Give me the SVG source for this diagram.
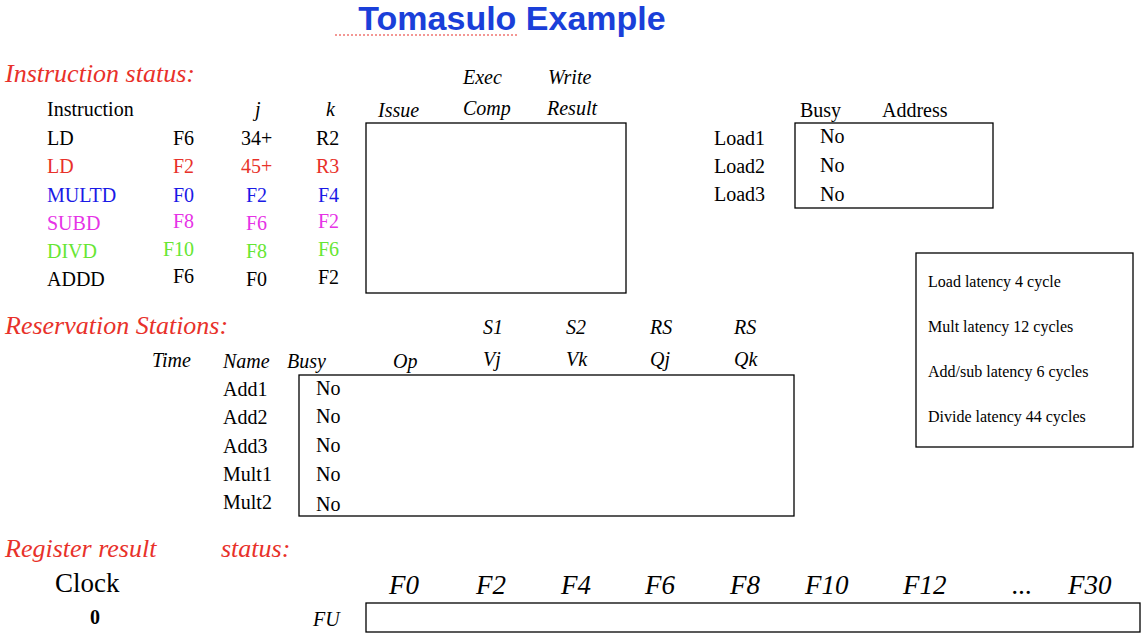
<svg xmlns="http://www.w3.org/2000/svg" width="1148" height="642" viewBox="0 0 1148 642">
<style>
text{font-family:"Liberation Serif",serif;font-size:20px;fill:#000}
.it{font-style:italic}
.sec{font-style:italic;font-size:26px;fill:#e8312a}
.r{fill:#e8312a}.b{fill:#1a1ae6}.m{fill:#e633e6}.g{fill:#66e633}
.lat{font-size:16px}
.reg{font-style:italic;font-size:27px}
rect{fill:none;stroke:#000;stroke-width:1.3}
</style>
<rect x="0" y="0" width="1148" height="642" style="fill:#fff;stroke:none"/>
<g id="title">
<text x="512" y="30" text-anchor="middle" style="font-family:'Liberation Sans',sans-serif;font-weight:bold;font-size:34px;fill:#1a3fd9">Tomasulo Example</text>
<line x1="335" y1="35" x2="517" y2="35" stroke="#e8312a" stroke-width="1.2" stroke-dasharray="2,2"/>
</g>
<g id="instruction-status">
<text class="sec" x="5" y="82">Instruction status:</text>
<text class="it" x="463" y="84">Exec</text><text class="it" x="548" y="84">Write</text>
<text x="47" y="116">Instruction</text><text class="it" x="255" y="116">j</text><text class="it" x="326" y="116">k</text>
<text class="it" x="378" y="117">Issue</text><text class="it" x="463" y="115">Comp</text><text class="it" x="547" y="115">Result</text>
<text x="47" y="145">LD</text><text x="173" y="145">F6</text><text x="241" y="145">34+</text><text x="316" y="145">R2</text>
<text class="r" x="47" y="173">LD</text><text class="r" x="173" y="173">F2</text><text class="r" x="241" y="173">45+</text><text class="r" x="316" y="173">R3</text>
<text class="b" x="47" y="202">MULTD</text><text class="b" x="173" y="202">F0</text><text class="b" x="246" y="202">F2</text><text class="b" x="318" y="202">F4</text>
<text class="m" x="47" y="230">SUBD</text><text class="m" x="173" y="228">F8</text><text class="m" x="246" y="230">F6</text><text class="m" x="318" y="228">F2</text>
<text class="g" x="47" y="258">DIVD</text><text class="g" x="163" y="256">F10</text><text class="g" x="246" y="258">F8</text><text class="g" x="318" y="256">F6</text>
<text x="47" y="286">ADDD</text><text x="173" y="283">F6</text><text x="246" y="286">F0</text><text x="318" y="284">F2</text>
<rect x="366" y="123" width="260" height="170"/>
</g>
<g id="load-buffers">
<text x="800" y="117">Busy</text><text x="882" y="117">Address</text>
<text x="714" y="145">Load1</text><text x="820" y="143">No</text>
<text x="714" y="173">Load2</text><text x="820" y="172">No</text>
<text x="714" y="201">Load3</text><text x="820" y="201">No</text>
<rect x="795" y="123" width="198" height="85"/>
</g>
<g id="latency">
<rect x="916" y="253" width="217" height="194"/>
<text class="lat" x="928" y="287">Load latency 4 cycle</text>
<text class="lat" x="928" y="332">Mult latency 12 cycles</text>
<text class="lat" x="928" y="377">Add/sub latency 6 cycles</text>
<text class="lat" x="928" y="422">Divide latency 44 cycles</text>
</g>
<g id="reservation-stations">
<text class="sec" x="5" y="334">Reservation Stations:</text>
<text class="it" x="483" y="334">S1</text><text class="it" x="566" y="334">S2</text><text class="it" x="650" y="334">RS</text><text class="it" x="734" y="334">RS</text>
<text class="it" x="152" y="367">Time</text><text class="it" x="223" y="368">Name</text><text class="it" x="287" y="368">Busy</text><text class="it" x="393" y="368">Op</text>
<text class="it" x="483" y="366">Vj</text><text class="it" x="566" y="366">Vk</text><text class="it" x="650" y="366">Qj</text><text class="it" x="734" y="366">Qk</text>
<text x="223" y="396">Add1</text><text x="316" y="395">No</text>
<text x="223" y="424">Add2</text><text x="316" y="423">No</text>
<text x="223" y="453">Add3</text><text x="316" y="452">No</text>
<text x="223" y="481">Mult1</text><text x="316" y="481">No</text>
<text x="223" y="509">Mult2</text><text x="316" y="511">No</text>
<rect x="299" y="375" width="495" height="141"/>
</g>
<g id="register-status">
<text class="sec" x="5" y="557">Register result</text><text class="sec" x="221" y="557">status:</text>
<text x="55" y="592" style="font-size:27px">Clock</text>
<text x="90" y="624" style="font-weight:bold">0</text>
<text class="reg" x="389" y="594">F0</text><text class="reg" x="476" y="594">F2</text><text class="reg" x="561" y="594">F4</text>
<text class="reg" x="645" y="594">F6</text><text class="reg" x="730" y="594">F8</text><text class="reg" x="805" y="594">F10</text>
<text class="reg" x="903" y="594">F12</text><text class="reg" x="1012" y="594">...</text><text class="reg" x="1068" y="594">F30</text>
<text class="it" x="313" y="626">FU</text>
<rect x="366" y="603" width="774" height="29"/>
</g>
</svg>
